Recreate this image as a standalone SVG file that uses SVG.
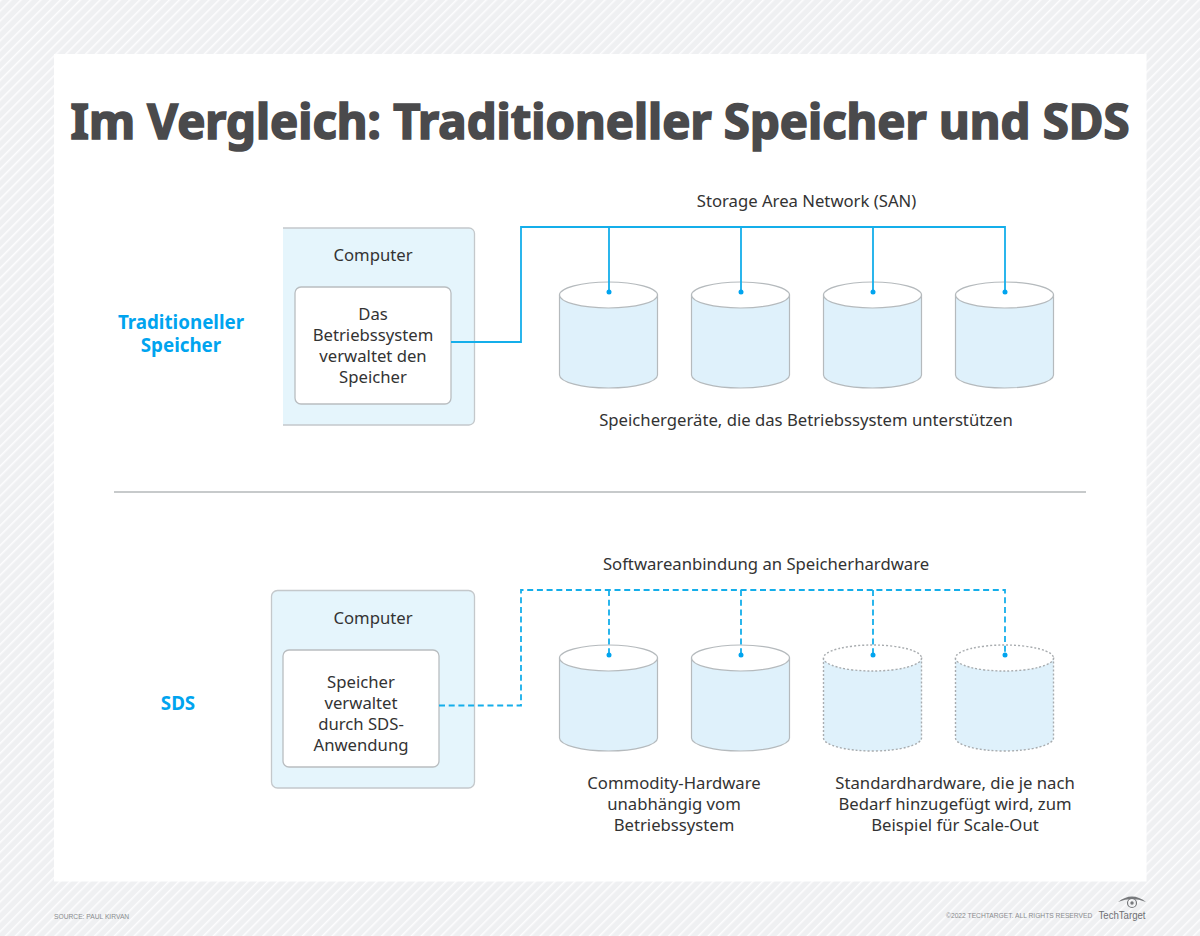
<svg xmlns="http://www.w3.org/2000/svg" width="1200" height="936" viewBox="0 0 1200 936">
<style>
.t{font-family:"Noto Sans","Open Sans","Liberation Sans",sans-serif;font-size:16.700px;fill:#333;text-anchor:middle}
.h{font-family:"Noto Sans","Open Sans","Liberation Sans",sans-serif;font-size:18.750px;font-weight:700;fill:#00a4ef;text-anchor:middle}
.f{font-family:"Liberation Sans",sans-serif;font-size:6.700px;fill:#8a8d90}
.outer{fill:#e5f5fc;stroke:#c4c8cb;stroke-width:1.3}
.inner{fill:#fff;stroke:#b9bdc0;stroke-width:1.3}
.solid,.dash{fill:none;stroke:#14aeea;stroke-width:1.800}
.dash{stroke-dasharray:6 3.7}
.body{fill:#dff1fb;stroke:#b5babd;stroke-width:1.2}
.top{fill:#fff;stroke:#b5babd;stroke-width:1.2}
.dot{stroke-dasharray:2 2;stroke:#a8acaf;stroke-width:1.4}
.pin{fill:#00a4ef}
</style>
<defs>
<pattern id="stripes" width="7" height="7" patternUnits="userSpaceOnUse" patternTransform="rotate(-45)">
<rect width="7" height="7" fill="#eff0f2"/><rect width="7" height="1.500" fill="#fdfdfe"/>
</pattern>
<g id="cyl">
<path class="body" d="M-49 0V80C-49 87 -27 93 0 93S49 87 49 80V0Z"/>
<ellipse class="top" cx="0" cy="0" rx="49" ry="13"/>
</g>
<g id="cyld">
<path class="body dot" d="M-49 0V80C-49 87 -27 93 0 93S49 87 49 80V0Z"/>
<ellipse class="top dot" cx="0" cy="0" rx="49" ry="13"/>
</g>
</defs>
<rect id="background" width="1200" height="936" fill="url(#stripes)"/>
<rect id="panel" x="54" y="54" width="1092.500" height="827.500" fill="#fff"/>
<text id="title" x="600" y="139" text-anchor="middle" textLength="1059" lengthAdjust="spacingAndGlyphs" font-family="'Noto Sans','Open Sans','Liberation Sans',sans-serif" font-size="47.500" font-weight="700" fill="#4a4a4c" stroke="#4a4a4c" stroke-width="1.700">Im Vergleich: Traditioneller Speicher und SDS</text>
<text id="label-trad" class="h"><tspan x="181" y="329">Traditioneller</tspan><tspan x="181" y="352">Speicher</tspan></text>
<text id="label-sds" class="h" x="178" y="710">SDS</text>
<line id="divider" x1="114" y1="492" x2="1086" y2="492" stroke="#b5b8ba" stroke-width="1.300"/>

<g id="computer-1">
<path d="M283 228H469a5.500 5.500 0 0 1 5.500 5.500V419.500a5.500 5.500 0 0 1 -5.500 5.500H283Z" fill="#e5f5fc"/>
<path class="outer" style="fill:none" d="M283 228H469a5.500 5.500 0 0 1 5.500 5.500V419.500a5.500 5.500 0 0 1 -5.500 5.500H283"/>
<text class="t" x="373" y="261">Computer</text>
</g>
<g id="os-box">
<rect class="inner" x="295" y="287" width="156" height="117" rx="6"/>
<text class="t"><tspan x="373" y="320">Das</tspan><tspan x="373" y="341">Betriebssystem</tspan><tspan x="373" y="362">verwaltet den</tspan><tspan x="373" y="383">Speicher</tspan></text>
</g>
<g id="computer-2">
<rect class="outer" x="271.500" y="590.500" width="203" height="197.500" rx="6"/>
<text class="t" x="373" y="624">Computer</text>
</g>
<g id="sds-box">
<rect class="inner" x="283" y="650" width="156" height="117" rx="6"/>
<text class="t"><tspan x="361" y="688">Speicher</tspan><tspan x="361" y="709">verwaltet</tspan><tspan x="361" y="730">durch SDS-</tspan><tspan x="361" y="751">Anwendung</tspan></text>
</g>

<g id="disk-1"><use href="#cyl" x="608.500" y="295"/></g>
<g id="disk-2"><use href="#cyl" x="740.500" y="295"/></g>
<g id="disk-3"><use href="#cyl" x="872.500" y="295"/></g>
<g id="disk-4"><use href="#cyl" x="1004.500" y="295"/></g>
<g id="disk-5"><use href="#cyl" x="608.500" y="658"/></g>
<g id="disk-6"><use href="#cyl" x="740.500" y="658"/></g>
<g id="disk-7"><use href="#cyld" x="872.500" y="658"/></g>
<g id="disk-8"><use href="#cyld" x="1004.500" y="658"/></g>

<g id="connectors">
<path class="solid" d="M451 342H521V227H1005V292M609 227V292M741 227V292M873 227V292"/>
<path class="dash" d="M439 705.500H521V590H1005V655"/>
<path class="dash" d="M609 590V655M741 590V655M873 590V655"/>
<g class="pin">
<circle cx="609" cy="292" r="2.500"/><circle cx="741" cy="292" r="2.500"/><circle cx="873" cy="292" r="2.500"/><circle cx="1005" cy="292" r="2.500"/>
<circle cx="609" cy="655" r="2.500"/><circle cx="741" cy="655" r="2.500"/><circle cx="873" cy="655" r="2.500"/><circle cx="1005" cy="655" r="2.500"/>
</g>
</g>

<text id="san" class="t" x="806.500" y="207">Storage Area Network (SAN)</text>
<text id="os-storage" class="t" x="806" y="426">Speichergeräte, die das Betriebssystem unterstützen</text>
<text id="sw" class="t" x="766" y="570">Softwareanbindung an Speicherhardware</text>
<text id="commodity" class="t"><tspan x="674" y="789">Commodity-Hardware</tspan><tspan x="674" y="810">unabhängig vom</tspan><tspan x="674" y="831">Betriebssystem</tspan></text>
<text id="standard" class="t"><tspan x="955" y="789">Standardhardware, die je nach</tspan><tspan x="955" y="810">Bedarf hinzugefügt wird, zum</tspan><tspan x="955" y="831">Beispiel für Scale-Out</tspan></text>

<text id="source" class="f" x="54" y="918.500">SOURCE: PAUL KIRVAN</text>
<text id="copyright" class="f" x="946" y="917.500">©2022 TECHTARGET. ALL RIGHTS RESERVED</text>
<g id="logo" fill="none" stroke="#77797c">
<path d="M1118 902Q1132 891 1146 902Q1132 896 1118 902Z" fill="#77797c" stroke="none"/>
<circle cx="1132" cy="903" r="4.500" stroke-width="1.200"/><circle cx="1132" cy="903" r="1.700" fill="#77797c" stroke="none"/>
<text x="1122" y="919" text-anchor="middle" textLength="47" lengthAdjust="spacingAndGlyphs" font-family="'Liberation Sans',sans-serif" font-size="11.500" fill="#6f7174" stroke="none">TechTarget</text>
</g>
</svg>
